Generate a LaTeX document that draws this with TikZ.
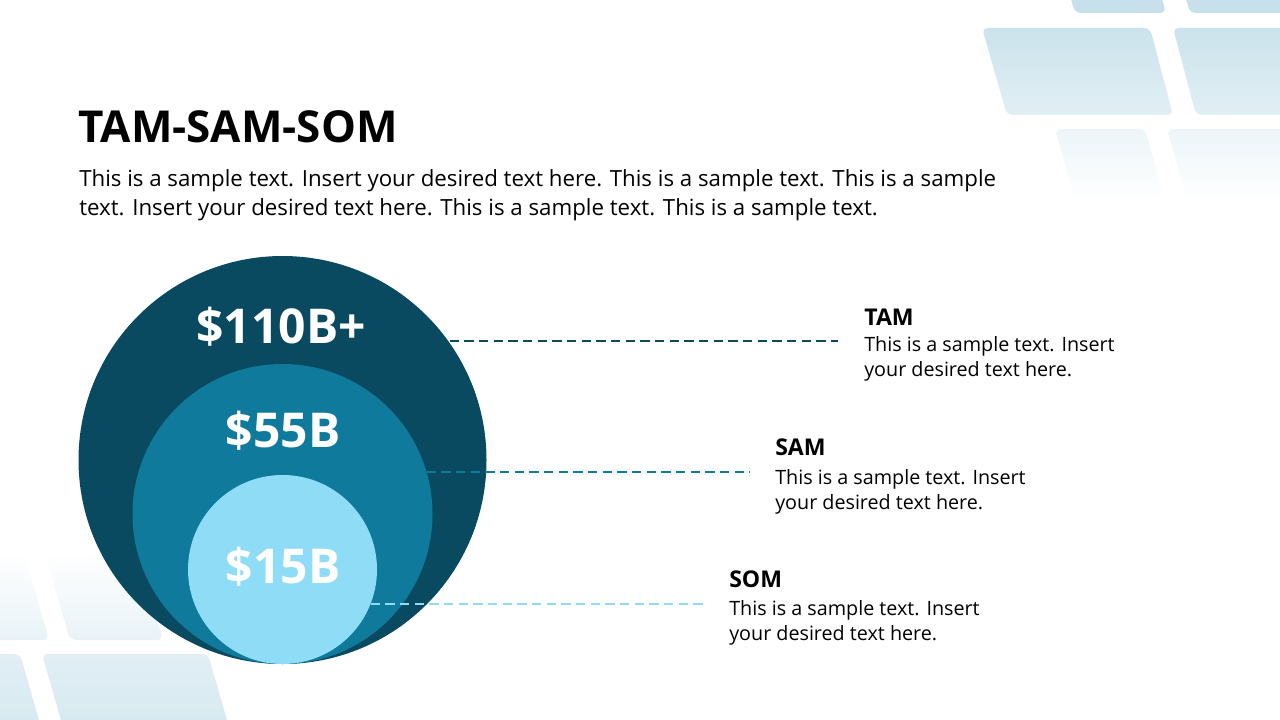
\documentclass[tikz,border=0pt]{standalone}
\usepackage{fontspec}
\setmainfont{Open Sans}
\usetikzlibrary{calc}
\definecolor{tamc}{HTML}{0A4A60}
\definecolor{samc}{HTML}{0F7A9B}
\definecolor{somc}{HTML}{8EDCF5}
\definecolor{decoc}{HTML}{C4DFEA}
\tikzset{
  px/.style={x=0.75pt,y=-0.75pt},
  ring/.style={circle,inner sep=0pt,outer sep=0pt,draw=none},
  amount/.style={text=white,font=\fontsize{36}{42}\selectfont\bfseries},
  lead/.style={dash pattern=on 7pt off 4pt,line width=1.5pt},
  head/.style={font=\fontsize{17.3}{20}\selectfont\bfseries,anchor=base west,inner sep=0pt},
  desc/.style={font=\fontsize{14.8}{18.75}\selectfont,anchor=base west,inner sep=0pt,align=left},
  tile/.style={rounded corners=4.5pt},
}
\begin{document}
\begin{tikzpicture}[px]
\useasboundingbox (0,0) rectangle (1280,720);
\fill[white] (0,0) rectangle (1280,720);
% top-right tiles
\shade[tile,top color=decoc,bottom color=decoc!95!white] (1050,-74) -- (1141,-74) -- (1166,13) -- (1075,13) -- cycle;
\shade[tile,top color=decoc,bottom color=decoc!95!white] (1165,-74) -- (1300,-74) -- (1300,13) -- (1190,13) -- cycle;
\shade[tile,top color=decoc!88!white,bottom color=decoc!50!white] (982,28) -- (1150,28) -- (1173,115) -- (1007,115) -- cycle;
\shade[tile,top color=decoc!88!white,bottom color=decoc!50!white] (1173,28) -- (1300,28) -- (1300,115) -- (1196,115) -- cycle;
\shade[tile,top color=decoc!32!white,bottom color=white] (1055,129) -- (1145,129) -- (1165,200) -- (1075,200) -- cycle;
\shade[tile,top color=decoc!32!white,bottom color=white] (1167,129) -- (1300,129) -- (1300,200) -- (1187,200) -- cycle;
% bottom-left tiles
\shade[tile,top color=white,bottom color=decoc!38!white] (-40,553) -- (24,553) -- (49,640) -- (-20,640) -- cycle;
\shade[tile,top color=white,bottom color=decoc!38!white] (45,553) -- (138,553) -- (163,640) -- (70,640) -- cycle;
\shade[tile,top color=decoc!50!white,bottom color=decoc!72!white] (-40,654) -- (20,654) -- (45,741) -- (-20,741) -- cycle;
\shade[tile,top color=decoc!50!white,bottom color=decoc!72!white] (42,654) -- (208,654) -- (233,741) -- (67,741) -- cycle;
% title and intro
\node[anchor=base west,inner sep=0pt,font=\fontsize{33}{40}\selectfont\bfseries] (title) at (78,143) {TAM-SAM-SOM};
\node[desc,font=\fontsize{16.7}{21.75}\selectfont] (intro) at (79,216) {This is a sample text. Insert your desired text here. This is a sample text. This is a sample\\text. Insert your desired text here. This is a sample text. This is a sample text.};
% circles
\node[ring,fill=tamc,minimum size=306pt] (tam) at (282.5,460) {};
\node[ring,fill=samc,minimum size=225pt] (sam) at (282.5,514) {};
\node[ring,fill=somc,minimum size=141.75pt] (som) at (282.5,569.5) {};
\node[amount,anchor=base] (tamv) at (281,343) {\$110B+};
\node[amount,anchor=base] (samv) at (283,447) {\$55B};
\node[amount,anchor=base] (somv) at (283,583) {\$15B};
% labels
\node[head] (tamh) at (864,325) {TAM};
\node[desc] (tamd) at (864,376) {This is a sample text. Insert\\your desired text here.};
\node[head] (samh) at (775,455) {SAM};
\node[desc] (samd) at (775,509) {This is a sample text. Insert\\your desired text here.};
\node[head] (somh) at (729,587) {SOM};
\node[desc] (somd) at (729,640) {This is a sample text. Insert\\your desired text here.};
% connectors
\coordinate (tame) at (838,341);
\coordinate (same) at (750,472);
\coordinate (some) at (707,604);
\draw[lead,tamc] (tame -| tam.35.7) -- (tame);
\draw[lead,samc] (same -| sam.16.3) -- (same);
\draw[lead,somc] (some -| som.-21.1) -- (some);
\end{tikzpicture}
\end{document}
